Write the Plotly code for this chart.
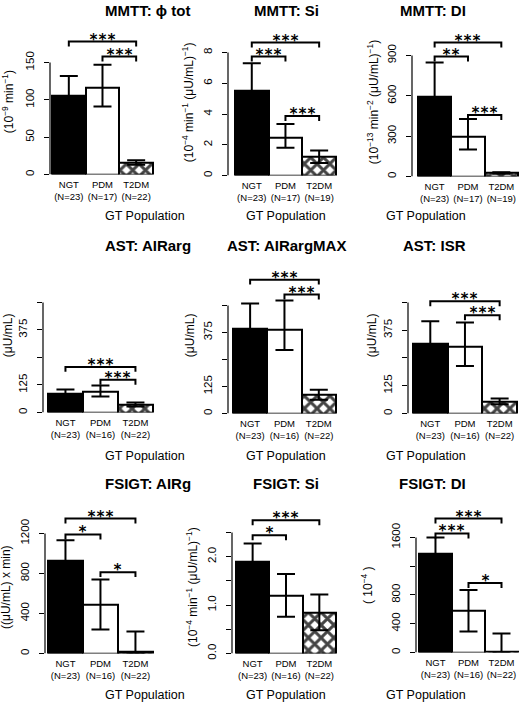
import plotly.graph_objects as go

W, H = 520, 707

# ---------------- data ----------------
groups = ["NGT", "PDM", "T2DM"]

titles = ["MMTT: \u03d5 tot", "MMTT: Si", "MMTT: DI",
          "AST: AIRarg", "AST: AIRargMAX", "AST: ISR",
          "FSIGT: AIRg", "FSIGT: Si", "FSIGT: DI"]

n_labels = [["N=23", "N=17", "N=22"], ["N=23", "N=17", "N=19"], ["N=23", "N=17", "N=19"],
            ["N=23", "N=16", "N=22"], ["N=23", "N=16", "N=22"], ["N=23", "N=16", "N=22"],
            ["N=23", "N=16", "N=22"], ["N=23", "N=16", "N=22"], ["N=23", "N=16", "N=22"]]

y_titles = ["(10<sup>\u22129</sup> min<sup>\u22121</sup>)",
            "(10<sup>\u22124</sup> min<sup>\u22121</sup> (\u03bcU/mL)<sup>\u22121</sup>)",
            "(10<sup>\u221213</sup> min<sup>\u22122</sup> (\u03bcU/mL)<sup>\u22121</sup>)",
            "(\u03bcU/mL)", "(\u03bcU/mL)", "(\u03bcU/mL)",
            "((\u03bcU/mL) x min)",
            "(10<sup>\u22124</sup> min<sup>\u22121</sup> (\u03bcU/mL)<sup>\u22121</sup>)",
            "( 10<sup>\u22124</sup> )"]

means = [[105, 116, 16], [5.48, 2.45, 1.22], [590, 295, 26],
         [86, 95, 36], [390, 385, 87], [315, 300, 54],
         [923, 490, 15], [1.90, 1.19, 0.85], [1366, 580, 10]]

err_hi = [[132, 147, 19], [7.3, 3.35, 1.62], [848, 428, 32],
          [104, 122, 45], [509, 523, 110], [415, 410, 67],
          [1131, 740, 220], [2.27, 1.64, 1.22], [1600, 870, 262]]

err_lo = [[78, 91, 13], [3.66, 1.8, 0.82], [332, 200, 20],
          [68, 72, 27], [271, 294, 64], [215, 214, 41],
          [715, 240, 0], [1.53, 0.76, 0.48], [1130, 290, 0]]

tick_vals = [[0, 50, 100, 150], [0, 2, 4, 6, 8], [0, 300, 600, 900],
             [0, 125, 250, 375, 500], [0, 125, 250, 375, 500], [0, 125, 250, 375, 500],
             [0, 400, 800, 1200], [0, 0.5, 1.0, 1.5, 2.0, 2.5], [0, 400, 800, 1200, 1600]]

tick_text = [["0", "50", "100", "150"], ["0", "2", "4", "6", "8"], ["0", "300", "600", "900"],
             ["0", "125", "", "375", ""], ["0", "125", "", "375", ""], ["0", "125", "", "375", ""],
             ["0", "400", "800", "1200"], ["0.0", "", "1.0", "", "2.0", ""],
             ["0", "400", "800", "", "1600"]]

# significance brackets: (group i, group j, level, label)
brackets = [[(0, 2, 178, "***"), (1, 2, 158, "***")],
            [(0, 2, 8.65, "***"), (0, 1, 7.74, "***"), (1, 2, 3.87, "***")],
            [(0, 2, 996, "***"), (0, 1, 892, "**"), (1, 2, 457, "***")],
            [(0, 2, 207, "***"), (1, 2, 149, "***")],
            [(0, 2, 619, "***"), (1, 2, 550, "***")],
            [(0, 2, 505, "***"), (1, 2, 442, "***")],
            [(0, 2, 1349, "***"), (0, 1, 1190, "*"), (1, 2, 813, "*")],
            [(0, 2, 2.75, "***"), (0, 1, 2.44, "*")],
            [(0, 2, 1862, "***"), (0, 1, 1655, "***"), (1, 2, 966, "*")]]

# ---------------- layout geometry (pixels) ----------------
# axis x, bar-left, bar-right, baseline y, px per unit, top y
geom = [(50, 52, 154, 176, 0.753, 24), (228, 235, 337, 177, 15.5, 24), (412, 418, 519, 178, 0.1356, 24),
        (43, 48, 154, 416, 0.222, 258), (228, 233, 337, 417, 0.218, 258), (408, 413, 518, 417, 0.224, 258),
        (45, 48, 154, 659, 0.1008, 502), (232, 236, 337, 659, 48.8, 502), (416, 419, 519, 658, 0.0725, 502)]

col_center = [103, 286, 468]
title_y = [11, 248, 488]
gtpop_y = [218, 460, 701]
ytitle_x = [8, 188, 373, 8, 190, 372, 6, 192, 367]
ytitle_y = [103, 103, 103, 338, 338, 338, 592, 592, 590]

FONT = "Liberation Sans, Arial, Helvetica, sans-serif"

fig = go.Figure()
shapes = []
annotations = []
layout = {}

for k in range(9):
    ax, bl, br, base, sc, top = geom[k]
    xid = "x" if k == 0 else f"x{k+1}"
    yid = "y" if k == 0 else f"y{k+1}"
    xname = "xaxis" if k == 0 else f"xaxis{k+1}"
    yname = "yaxis" if k == 0 else f"yaxis{k+1}"
    row, col = divmod(k, 3)

    m = means[k]
    plus = [h - v for h, v in zip(err_hi[k], m)]
    minus = [v - l for v, l in zip(m, err_lo[k])]

    fig.add_trace(go.Bar(
        x=[0, 1, 2], y=m, width=1,
        marker=dict(color=["black", "white", "white"],
                    line=dict(color="black", width=2),
                    pattern=dict(shape=["", "", "x"], fgcolor="black", bgcolor="white",
                                 fgopacity=1, size=9, solidity=0.55)),
        error_y=dict(type="data", symmetric=False, array=plus, arrayminus=minus,
                     color="black", thickness=2, width=9),
        xaxis=xid, yaxis=yid, showlegend=False, hoverinfo="skip"))

    bw = (br - bl) / 3.0
    padl = (bl - ax) / bw
    layout[xname] = dict(domain=[ax / W, br / W], range=[-0.5 - padl, 2.53],
                         tickvals=[0, 1, 2],
                         ticktext=[f"{g}<br>({n})" for g, n in zip(groups, n_labels[k])],
                         ticks="", showgrid=False, zeroline=False, showline=False,
                         tickfont=dict(size=9.5, family=FONT, color="black"),
                         anchor=yid, fixedrange=True, ticklabelstandoff=3)
    ymax = (base - top) / sc
    layout[yname] = dict(domain=[1 - base / H, 1 - top / H], range=[0, ymax],
                         tickvals=tick_vals[k], ticktext=tick_text[k],
                         ticks="outside", ticklen=5, tickwidth=1, tickcolor="black",
                         tickangle=-90, showgrid=False, zeroline=False, showline=False,
                         tickfont=dict(size=11.5, family=FONT, color="black"),
                         anchor=xid, fixedrange=True, ticklabelstandoff=5)

    # y axis line spanning tick range (R style)
    shapes.append(dict(type="line", xref=f"{xid} domain", yref=yid, x0=0, x1=0,
                       y0=tick_vals[k][0], y1=tick_vals[k][-1],
                       line=dict(color="black", width=1.2)))

    drop = 5.0 / sc
    for (i, j, lev, lab) in brackets[k]:
        shapes.append(dict(type="path", xref=xid, yref=yid,
                           path=f"M {i},{lev - drop} L {i},{lev} L {j},{lev} L {j},{lev - drop}",
                           line=dict(color="black", width=2)))
        annotations.append(dict(x=(i + j) / 2, y=lev, xref=xid, yref=yid, text=f"<b>{lab}</b>",
                                showarrow=False, yanchor="bottom", yshift=-8, borderpad=0,
                                font=dict(size=15, family="DejaVu Sans Mono", color="black")))

    # panel title
    annotations.append(dict(x=col_center[col] / W, y=1 - title_y[row] / H, xref="paper", yref="paper",
                            text=f"<b>{titles[k]}</b>", showarrow=False, yanchor="middle",
                            font=dict(size=15, family=FONT, color="black")))
    # x title
    annotations.append(dict(x=col_center[col] / W, y=1 - gtpop_y[row] / H, xref="paper", yref="paper",
                            text="GT Population", showarrow=False, yanchor="middle",
                            font=dict(size=12.5, family=FONT, color="black")))
    # y title
    annotations.append(dict(x=ytitle_x[k] / W, y=1 - ytitle_y[k] / H, xref="paper", yref="paper",
                            text=y_titles[k], showarrow=False, textangle=-90,
                            xanchor="center", yanchor="middle",
                            font=dict(size=12, family=FONT, color="black")))

fig.update_layout(width=W, height=H, margin=dict(l=0, r=0, t=0, b=0),
                  paper_bgcolor="white", plot_bgcolor="white",
                  bargap=0, shapes=shapes, annotations=annotations,
                  font=dict(family=FONT, color="black"), **layout)

fig.write_html("out.html")
